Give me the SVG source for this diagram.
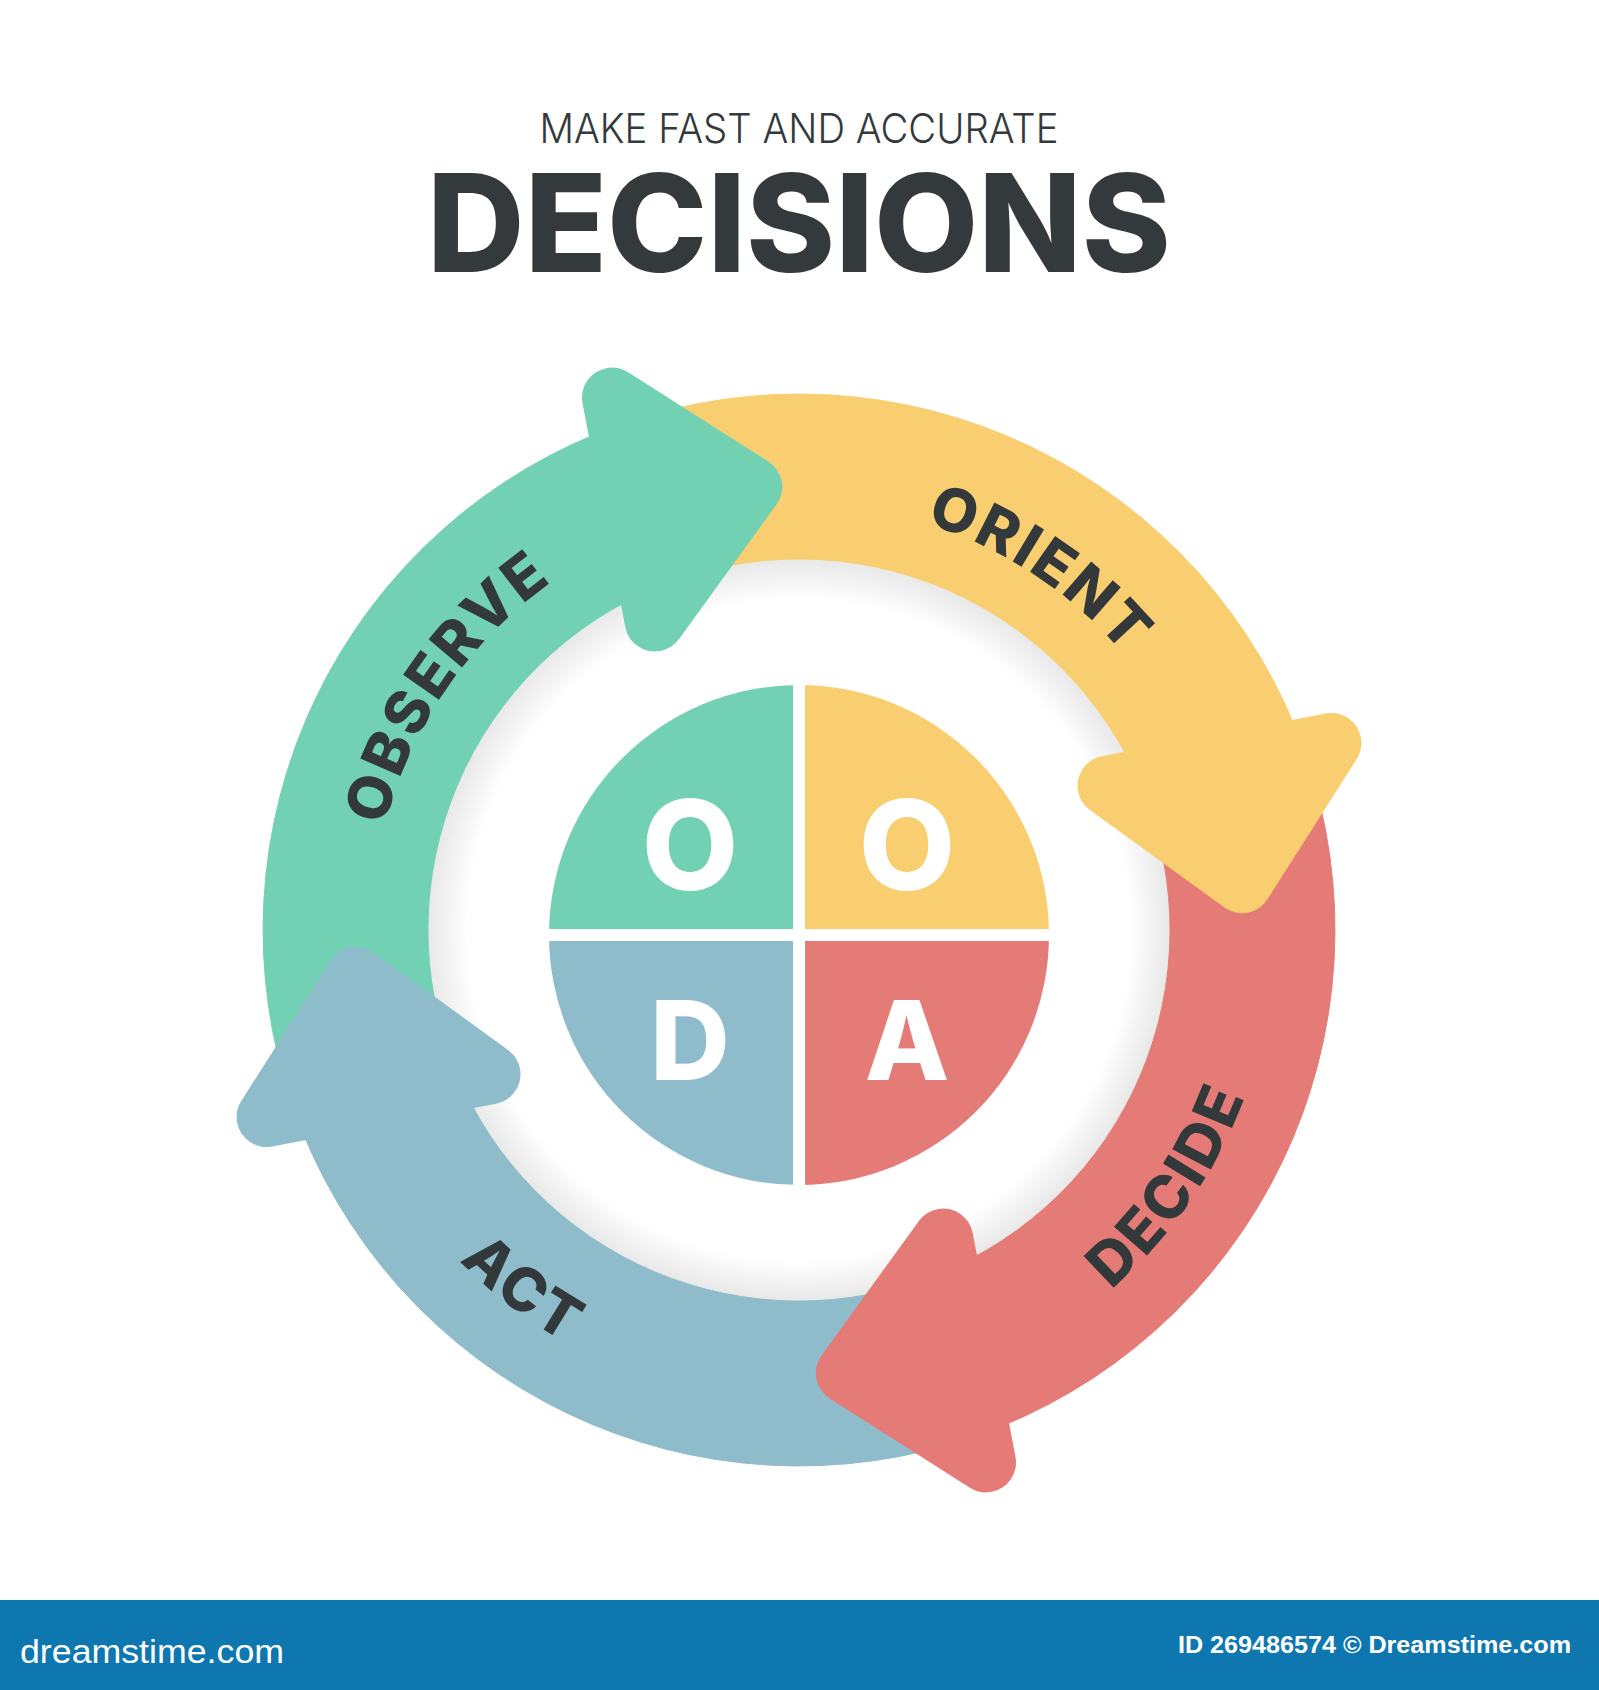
<svg xmlns="http://www.w3.org/2000/svg" width="1599" height="1690" viewBox="0 0 1599 1690">
  <defs>
    <style>
      .title { font-family: Inter, "Liberation Sans", sans-serif; fill: #343a3b; }
      .label { font-family: Inter, "Liberation Sans", sans-serif; font-weight: 800; font-size: 60px; letter-spacing: 3px; fill: #33393a; }
      .letter { font-family: Inter, "Liberation Sans", sans-serif; font-weight: 800; fill: #ffffff; text-anchor: middle; }
      .head { stroke-width: 60; stroke-linejoin: round; }
      .green { fill: #73d1b3; stroke: #73d1b3; }
      .yellow { fill: #f8ce70; stroke: #f8ce70; }
      .red { fill: #e57b77; stroke: #e57b77; }
      .blue { fill: #8fbccb; stroke: #8fbccb; }
      .foot { font-family: "Liberation Sans", sans-serif; fill: #ffffff; }
    </style>
    <radialGradient id="innerShadow" cx="799" cy="930" r="371" gradientUnits="userSpaceOnUse">
      <stop offset="0.89" stop-color="#000" stop-opacity="0"/>
      <stop offset="1" stop-color="#000" stop-opacity="0.09"/>
    </radialGradient>
    <path id="body" d="M293,1106.7 A536,536 0 0 1 622.3,424 L676.7,579.7 A371,371 0 0 0 448.7,1052.3 Z"/>
    <path id="headShape" d="M612,397.6 L752.2,486.9 L654.8,621.5 Z"/>
    <path id="arcObserve" d="M413.6,1113.8 A427,427 0 0 1 832.5,504.3"/>
    <path id="arcOrient" d="M610.2,548.1 A426,426 0 0 1 1224.1,957.5"/>
    <path id="arcDecide" d="M760.4,1404.4 A476,476 0 0 0 1229.2,726.2"/>
    <path id="arcAct" d="M329,868.5 A474,474 0 0 0 980.8,1367.8"/>
  </defs>

  <rect x="0" y="0" width="1599" height="1690" fill="#ffffff"/>

  <g id="title">
    <text class="title" x="799" y="143" font-size="41" font-weight="300" text-anchor="middle" textLength="519" lengthAdjust="spacingAndGlyphs">MAKE FAST AND ACCURATE</text>
    <text class="title" x="799" y="272" font-size="136" font-weight="800" text-anchor="middle" textLength="744" lengthAdjust="spacingAndGlyphs">DECISIONS</text>
  </g>

  <circle id="inner-shadow" cx="799" cy="930" r="371" fill="url(#innerShadow)"/>

  <g id="ring-bodies">
    <use href="#body" class="green" stroke="none"/>
    <use href="#body" class="yellow" stroke="none" transform="rotate(90 799 930)"/>
    <use href="#body" class="red" stroke="none" transform="rotate(180 799 930)"/>
    <use href="#body" class="blue" stroke="none" transform="rotate(270 799 930)"/>
  </g>

  <g id="connectors">
    <use href="#headShape" class="head green"/>
    <use href="#headShape" class="head yellow" transform="rotate(90 799 930)"/>
    <use href="#headShape" class="head red" transform="rotate(180 799 930)"/>
    <use href="#headShape" class="head blue" transform="rotate(270 799 930)"/>
  </g>

  <g id="node-observe">
    <text class="label"><textPath href="#arcObserve" startOffset="50%" text-anchor="middle">OBSERVE</textPath></text>
  </g>
  <g id="node-orient">
    <text class="label"><textPath href="#arcOrient" startOffset="50%" text-anchor="middle">ORIENT</textPath></text>
  </g>
  <g id="node-decide">
    <text class="label"><textPath href="#arcDecide" startOffset="50%" text-anchor="middle">DECIDE</textPath></text>
  </g>
  <g id="node-act">
    <text class="label"><textPath href="#arcAct" startOffset="50%" text-anchor="middle">ACT</textPath></text>
  </g>

  <g id="ooda-pie">
    <path d="M799,935 L549,935 A250,250 0 0 1 799,685 Z" fill="#73d1b3"/>
    <path d="M799,935 L799,685 A250,250 0 0 1 1049,935 Z" fill="#f8ce70"/>
    <path d="M799,935 L1049,935 A250,250 0 0 1 799,1185 Z" fill="#e57b77"/>
    <path d="M799,935 L799,1185 A250,250 0 0 1 549,935 Z" fill="#8fbccb"/>
    <rect x="793" y="680" width="12" height="510" fill="#ffffff"/>
    <rect x="544" y="929" width="510" height="12" fill="#ffffff"/>
    <text class="letter" x="690" y="890" font-size="125">O</text>
    <text class="letter" x="907" y="890" font-size="125">O</text>
    <text class="letter" x="690" y="1080" font-size="110">D</text>
    <text class="letter" x="907" y="1080" font-size="110">A</text>
  </g>

  <g id="footer">
    <rect x="0" y="1600" width="1599" height="90" fill="#0f77af"/>
    <text class="foot" x="20" y="1663" font-size="34" textLength="264" lengthAdjust="spacingAndGlyphs">dreamstime.com</text>
    <text class="foot" x="1178" y="1653" font-size="23" font-weight="bold" textLength="393" lengthAdjust="spacingAndGlyphs">ID 269486574 © Dreamstime.com</text>
  </g>
</svg>
